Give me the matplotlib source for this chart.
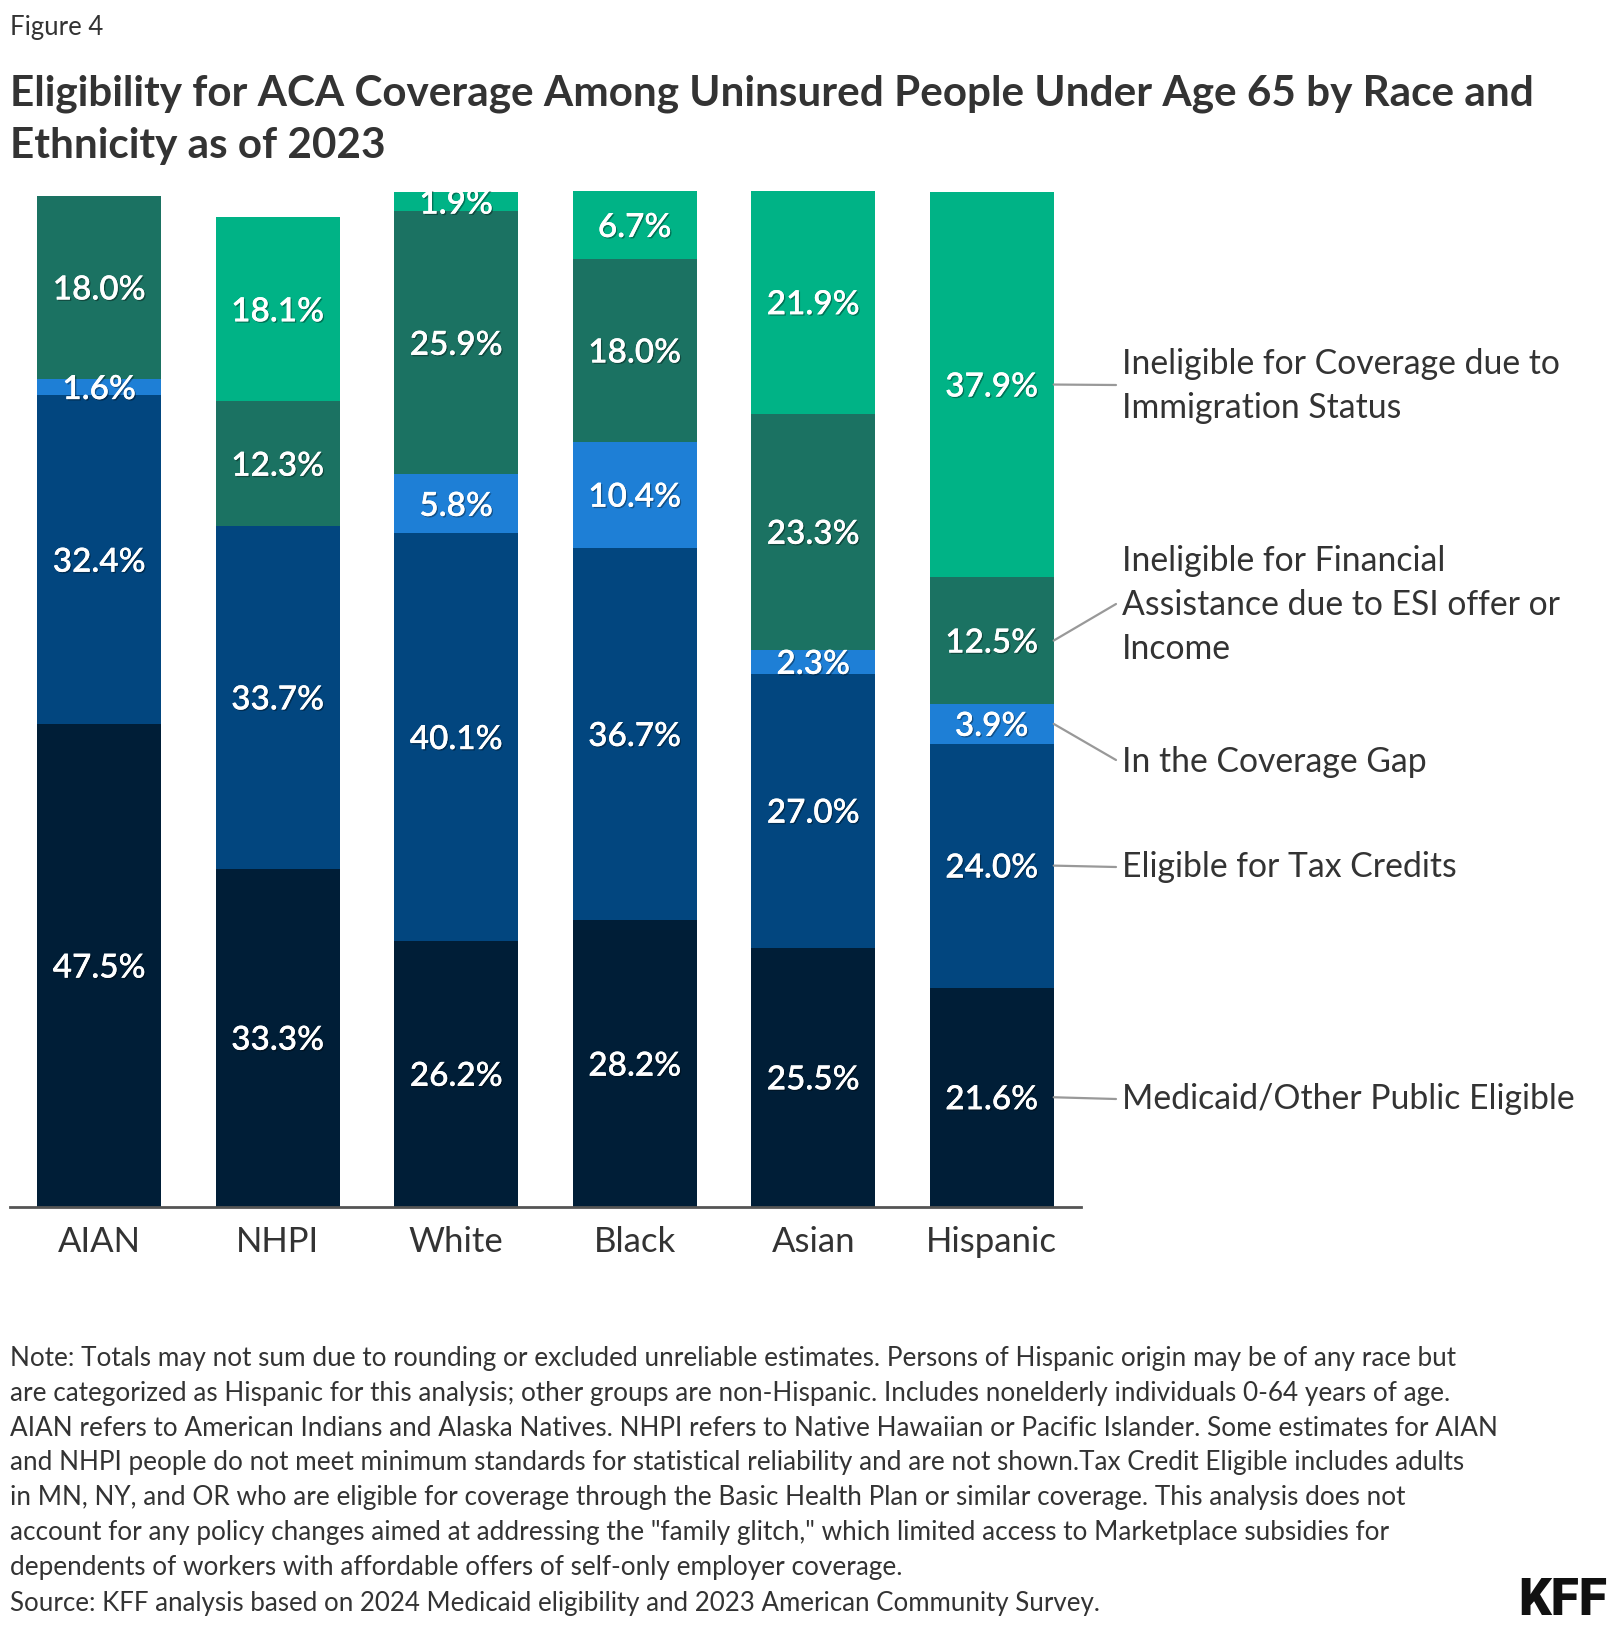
import matplotlib
matplotlib.use("Agg")
import matplotlib.pyplot as plt
import matplotlib.patheffects as pe
import numpy as np

groups = ["AIAN", "NHPI", "White", "Black", "Asian", "Hispanic"]
medicaid = [47.5, 33.3, 26.2, 28.2, 25.5, 21.6]
tax_credits = [32.4, 33.7, 40.1, 36.7, 27.0, 24.0]
coverage_gap = [1.6, 0.0, 5.8, 10.4, 2.3, 3.9]
ineligible_esi = [18.0, 12.3, 25.9, 18.0, 23.3, 12.5]
ineligible_immig = [0.0, 18.1, 1.9, 6.7, 21.9, 37.9]

series_names = [
    "Medicaid/Other Public Eligible",
    "Eligible for Tax Credits",
    "In the Coverage Gap",
    "Ineligible for Financial\nAssistance due to ESI offer or\nIncome",
    "Ineligible for Coverage due to\nImmigration Status",
]
series_vals = [medicaid, tax_credits, coverage_gap, ineligible_esi, ineligible_immig]
colors = ["#001e37", "#02467f", "#1e7fd6", "#1b7262", "#00b386"]

W, H = 1620, 1630
fig = plt.figure(figsize=(W / 100, H / 100), dpi=100)
FONT = "Lato"

def fx(x):
    return x / W

def fy(y):
    return 1 - y / H

ax = fig.add_axes([fx(10), fy(1207), fx(1081) - fx(10), (1207 - 191) / H])
x = np.arange(len(groups))
bw = 0.694
bottom = np.zeros(len(groups))
shadow = [pe.withSimplePatchShadow(offset=(1, -1), alpha=0.35, shadow_rgbFace="black"), pe.Normal()]
for vals, c in zip(series_vals, colors):
    v = np.array(vals)
    ax.bar(x, v, bw, bottom=bottom, color=c, linewidth=0)
    for i in range(len(groups)):
        if v[i] > 0:
            ax.text(x[i], bottom[i] + v[i] / 2, f"{v[i]:.1f}%", ha="center", va="center_baseline",
                    color="white", fontsize=24, fontfamily=FONT, fontweight="semibold",
                    path_effects=shadow)
    bottom += v

ax.set_xlim(-0.5, 5.5)
ax.set_ylim(0, 100)
for s in ["top", "right", "left"]:
    ax.spines[s].set_visible(False)
ax.spines["bottom"].set_color("#555555")
ax.spines["bottom"].set_linewidth(2)
ax.set_yticks([])
ax.set_xticks(x)
ax.set_xticklabels(groups, fontsize=25, fontfamily=FONT, color="#333333")
ax.tick_params(axis="x", length=0, pad=14)

# right-side labels for last bar
last = len(groups) - 1
cum = 0.0
mids = []
for vals in series_vals:
    mids.append(cum + vals[last] / 2)
    cum += vals[last]

label_text_y = [1099, 867, 762, 605, 386]
label_ends = [(1116, 1099), (1116, 867), (1116, 760), (1116, 604), (1116, 385)]
for name, mid, ty, (ex, ey) in zip(series_names, mids, label_text_y, label_ends):
    ax.annotate("", xy=(last + bw / 2, mid), xycoords="data",
                xytext=(fx(ex), fy(ey)), textcoords="figure fraction",
                arrowprops=dict(arrowstyle="-", color="#999999", lw=1.6, shrinkA=0, shrinkB=0))
    fig.text(fx(1122), fy(ty), name, ha="left", va="center", fontsize=24.3, fontfamily=FONT,
             color="#333333", linespacing=1.45)

fig.text(fx(10), fy(27), "Figure 4", fontsize=18.5, fontfamily=FONT, color="#333333",
         ha="left", va="center")
fig.text(fx(10), fy(120), "Eligibility for ACA Coverage Among Uninsured People Under Age 65 by Race and\nEthnicity as of 2023",
         fontsize=30.4, fontfamily=FONT, fontweight="bold", color="#333333", ha="left", va="center",
         linespacing=1.45)

note = ("Note: Totals may not sum due to rounding or excluded unreliable estimates. Persons of Hispanic origin may be of any race but\n"
        "are categorized as Hispanic for this analysis; other groups are non-Hispanic. Includes nonelderly individuals 0-64 years of age.\n"
        "AIAN refers to American Indians and Alaska Natives. NHPI refers to Native Hawaiian or Pacific Islander. Some estimates for AIAN\n"
        "and NHPI people do not meet minimum standards for statistical reliability and are not shown.Tax Credit Eligible includes adults\n"
        "in MN, NY, and OR who are eligible for coverage through the Basic Health Plan or similar coverage. This analysis does not\n"
        "account for any policy changes aimed at addressing the \"family glitch,\" which limited access to Marketplace subsidies for\n"
        "dependents of workers with affordable offers of self-only employer coverage.")
fig.text(fx(10), fy(1346), note, fontsize=18.8, fontfamily=FONT, color="#333333", ha="left", va="top",
         linespacing=1.49)
fig.text(fx(10), fy(1603), "Source: KFF analysis based on 2024 Medicaid eligibility and 2023 American Community Survey.",
         fontsize=18.6, fontfamily=FONT, color="#333333", ha="left", va="center")
fig.text(fx(1607), fy(1601), "KFF", fontsize=37, fontfamily="Roboto", fontweight="black", color="#111111",
         ha="right", va="center")

fig.savefig("out.png", dpi=100, facecolor="white")
